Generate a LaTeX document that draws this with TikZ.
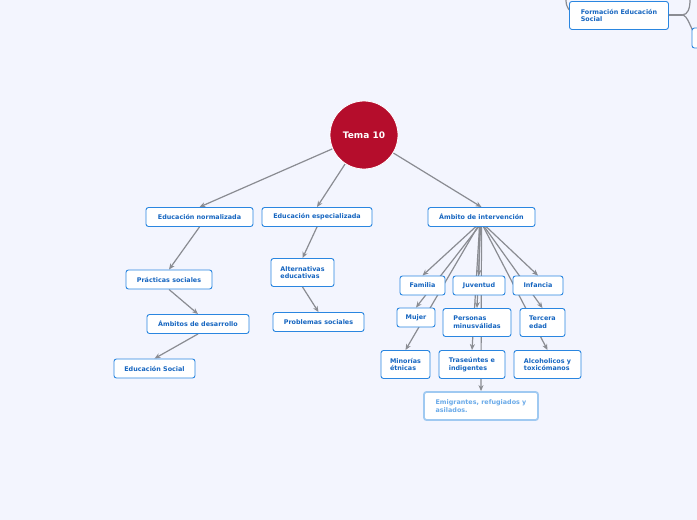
\documentclass[tikz,border=0pt]{standalone}
\usepackage{fontspec}
\setmainfont{DejaVu Sans}
\usetikzlibrary{arrows.meta}
\definecolor{bg}{HTML}{F3F5FE}
\definecolor{bx}{HTML}{2A86E0}
\definecolor{tx}{HTML}{1565C0}
\definecolor{ln}{HTML}{8A8C92}
\definecolor{red}{HTML}{B50D2C}
\pgfdeclarelayer{bgl}
\pgfsetlayers{bgl,main}
\tikzset{
 box/.style={draw=bx,line width=0.9pt,fill=white,rounded corners=2.5pt,font=\bfseries\fontsize{6.4}{7.6}\selectfont,text=tx,inner xsep=4pt,inner ysep=0pt,minimum height=19pt,align=left},
 two/.style={box,minimum height=28pt},
 con/.style={draw=ln,line width=1.2pt,-{Stealth[length=6pt,width=5pt]}},
}
\begin{document}
\begin{tikzpicture}[x=1pt,y=-1pt]
\begin{pgfonlayer}{bgl}
\fill[bg] (0,0) rectangle (697,520);
\end{pgfonlayer}
\useasboundingbox (0,0) rectangle (697,520);
% top right partial
\draw[ln,line width=1.2pt] (566,0) .. controls (566,8) and (570,12) .. (575,14);
\draw[ln,line width=1.2pt] (668,15) -- (682,15);
\draw[ln,line width=1.2pt] (682,15) .. controls (688,15) and (690,8) .. (690,0);
\draw[ln,line width=1.2pt] (682,15) .. controls (688,15) and (690,28) .. (697,38);
\node[box,minimum width=99pt,minimum height=28pt,anchor=north west] (fes) at (569,1) {Formación Educación\\Social};
\draw[bx,line width=0.9pt,fill=white,rounded corners=2.5pt] (692,28) rectangle (705,48);
% center
\node[circle,fill=red,draw=white,line width=0.8pt,minimum size=68pt,text=white,font=\bfseries\fontsize{9}{10}\selectfont] (t) at (364,135) {Tema 10};
\node[box,minimum width=107pt] (en) at (199.5,217) {Educación normalizada};
\node[box,minimum width=110pt] (ee) at (317,217) {Educación especializada};
\node[box,minimum width=107pt] (ai) at (481.5,217) {Ámbito de intervención};
\node[box,minimum width=86pt] (ps) at (169,279.5) {Prácticas sociales};
\node[box,minimum width=102pt] (ad) at (198,324) {Ámbitos de desarrollo};
\node[box,minimum width=81pt] (es) at (154.5,368.5) {Educación Social};
\node[two,minimum width=63pt] (al) at (302.5,272.5) {Alternativas\\educativas};
\node[box,minimum width=91pt] (pr) at (318.5,322) {Problemas sociales};
\node[box,minimum width=45pt] (fa) at (422.5,285.5) {Familia};
\node[box,minimum width=52pt] (ju) at (479,285.5) {Juventud};
\node[box,minimum width=50pt] (in) at (538,285.5) {Infancia};
\node[box,minimum width=38pt] (mu) at (416,317.5) {Mujer};
\node[two,minimum width=68pt] (pm) at (477,322.5) {Personas\\minusválidas};
\node[two,minimum width=45pt] (te) at (542.5,322.5) {Tercera\\edad};
\node[two,minimum width=49pt] (mi) at (405.5,364.5) {Minorías\\étnicas};
\node[two,minimum width=66pt] (tr) at (472,364.5) {Traseúntes e\\indigentes};
\node[two,minimum width=67pt] (ac) at (547.5,364.5) {Alcoholicos y\\toxicómanos};
\node[two,minimum width=114pt,draw=bx!45,line width=1.8pt,text=bx!70] (em) at (481,406) {Emigrantes, refugiados y\\asilados.};
% connectors
\begin{pgfonlayer}{bgl}
\draw[con] (t) -- (en.north);
\draw[con] (t) -- (ee.north);
\draw[con] (t) -- (ai.north);
\draw[con] (en.south) -- (ps.north);
\draw[con] (ps.south) -- (ad.north);
\draw[con] (ad.south) -- (es.north);
\draw[con] (ee.south) -- (al.north);
\draw[con] (al.south) -- (pr.north);
\draw[con] ([xshift=-6pt]ai.south) -- (fa.north);
\draw[con] ([xshift=-3pt]ai.south) -- (mu.north);
\draw[con] ([xshift=-4pt]ai.south) -- (mi.north);
\draw[con] ([xshift=-2pt]ai.south) -- (ju.north);
\draw[con] ([xshift=-1pt]ai.south) -- (pm.north);
\draw[con] ([xshift=-2pt]ai.south) -- (tr.north);
\draw[con] ([xshift=0pt]ai.south) -- (em.north);
\draw[con] ([xshift=5pt]ai.south) -- (in.north);
\draw[con] ([xshift=3pt]ai.south) -- (te.north);
\draw[con] ([xshift=2pt]ai.south) -- (ac.north);
\end{pgfonlayer}
\end{tikzpicture}
\end{document}
